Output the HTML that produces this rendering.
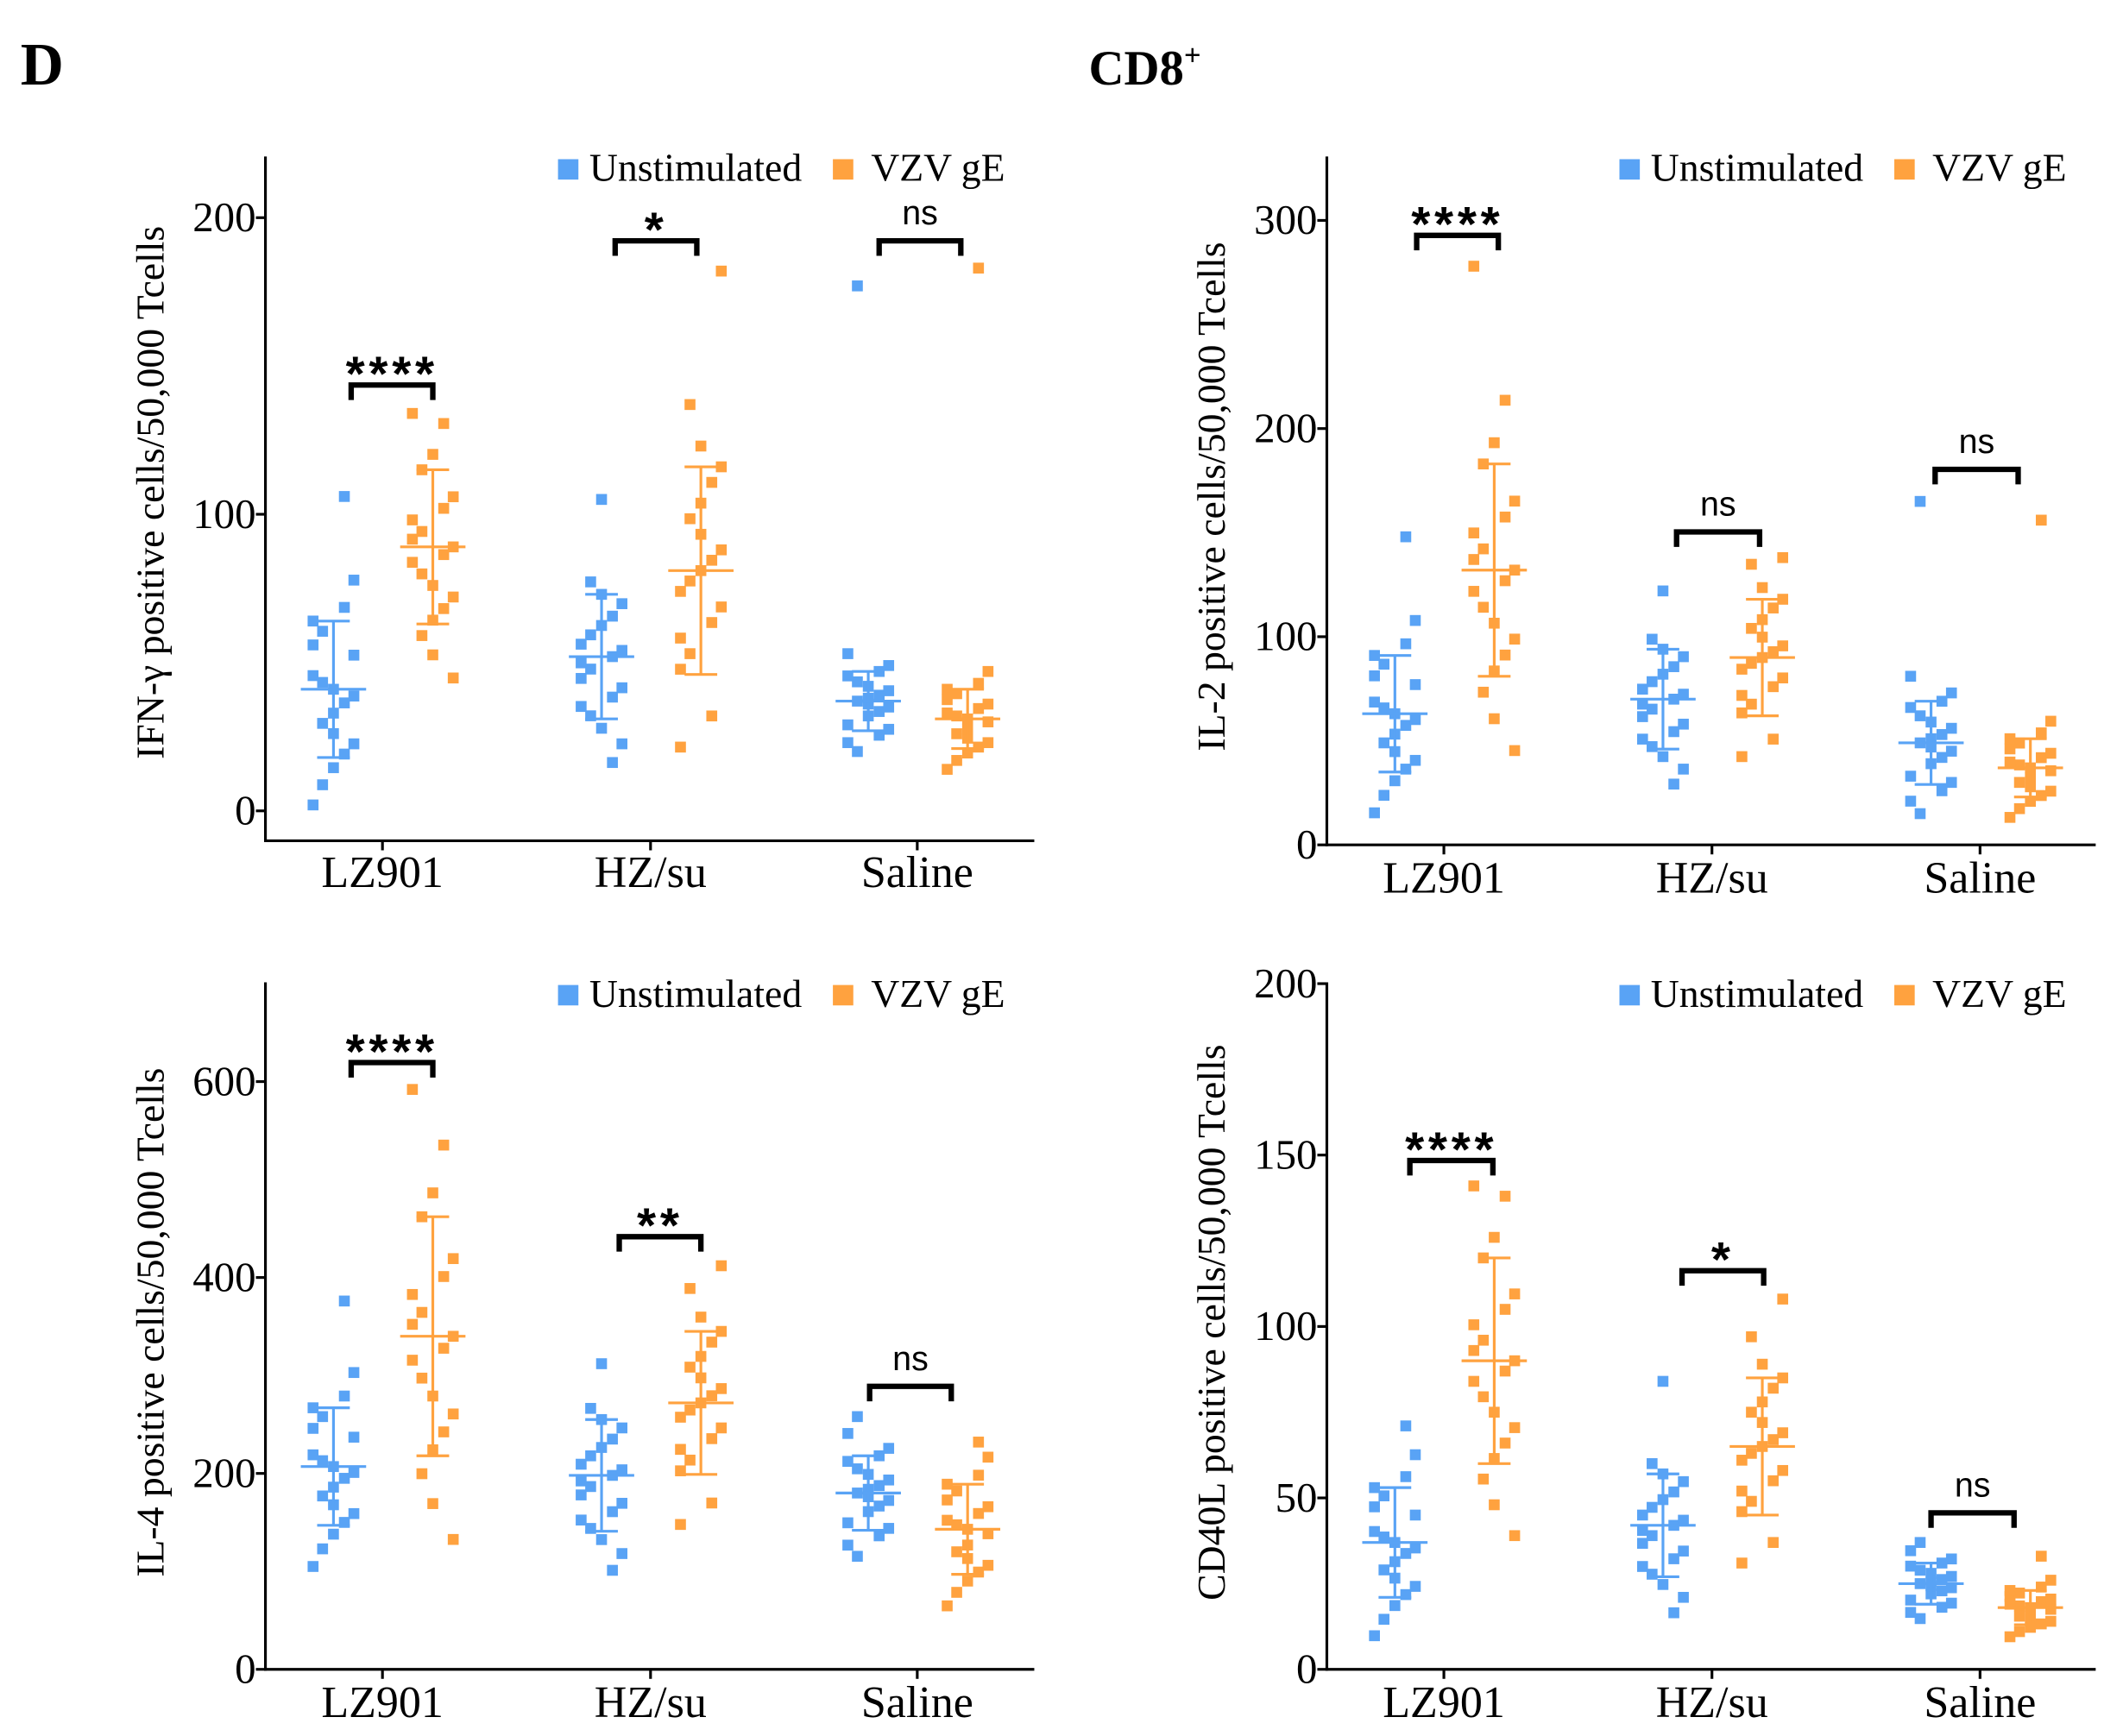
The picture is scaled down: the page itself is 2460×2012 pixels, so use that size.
<!DOCTYPE html>
<html><head><meta charset="utf-8"><style>
html,body{margin:0;padding:0;background:#fff;}
svg{display:block;}
</style></head><body>
<svg id="s" width="2460" height="2012" viewBox="0 0 1560 1276" xmlns="http://www.w3.org/2000/svg">
<text x="15" y="62" font-size="44" font-weight="bold" style="font-family:'Liberation Serif',serif">D</text>
<text x="800" y="62" font-size="36" font-weight="bold" style="font-family:'Liberation Serif',serif">CD8<tspan dy="-14" font-size="22">+</tspan></text>
</svg>
<script>
var S=document.getElementById('s'),NS='http://www.w3.org/2000/svg';
var SER="font-family:'Liberation Serif',serif",SAN="font-family:'Liberation Sans',sans-serif";
function el(t,a,txt){var e=document.createElementNS(NS,t);for(var k in a)e.setAttribute(k,a[k]);if(t=='text'&&!a.style)e.setAttribute('style',SER);if(txt!=null)e.textContent=txt;S.appendChild(e);return e;}
var B='#59a3f5',O='#ffa23f';
var Z=[-1.7,-1.4,-1.15,-0.95,-0.8,-0.65,-0.5,-0.35,-0.2,-0.1,0,0.1,0.2,0.35,0.5,0.65,0.85,1.0,1.2,1.6];
var JX=[-15,0,15,-8,8,-15,0,15,-8,8,0,-15,15,-8,8,0,-15,15,-8,8];
var panels=[
{ax:195,top:115,bot:618,xr:760,ymap:[[0,596],[200,160]],ticks:[0,100,200],gx:[281,478,674],lab:'IFN-γ positive cells/50,000 Tcells',ly:362,lx:120,legY:117,legX:[410,612],xlY:652,
 g:[[41,23,106],[89,26,134],[52,21,105],[81,35,182],[37,10,177],[31,10,183]],
 br:[[258,318,283,'****'],[452,512,177,'*'],[646,706,177,'ns']]},
{ax:975,top:115,bot:621,xr:1540,ymap:[[0,621],[300,162]],ticks:[0,100,200,300],gx:[1061,1258,1455],lab:'IL-2  positive cells/50,000 Tcells',ly:365,lx:900,legY:117,legX:[1190,1392],xlY:656,
 g:[[63,28,148],[132,51,278],[70,24,122],[90,28,138],[49,20,165],[37,14,156]],
 br:[[1041,1101,173,'****'],[1232,1293,391,'ns'],[1422,1483,345,'ns']]},
{ax:195,top:722,bot:1227,xr:760,ymap:[[0,1227],[600,795]],ticks:[0,200,400,600],gx:[281,478,674],lab:'IL-4  positive cells/50,000 Tcells',ly:972,lx:120,legY:724,legX:[410,612],xlY:1262,
 g:[[207,60,376],[340,122,592],[198,57,312],[272,73,412],[180,38,258],[143,46,232]],
 br:[[258,318,781,'****'],[455,515,909,'**'],[639,699,1019,'ns']]},
{ax:975,top:722,bot:1227,xr:1540,ymap:[[0,1227],[200,723]],ticks:[0,50,100,150,200],gx:[1061,1258,1455],lab:'CD40L  positive cells/50,000 Tcells',ly:972,lx:900,legY:724,legX:[1190,1392],xlY:1262,
 g:[[37,16,71],[90,30,141],[42,15,84],[65,20,108],[25,6,37],[18,5,33]],
 br:[[1036,1097,853,'****'],[1236,1296,934,'*'],[1419,1480,1112,'ns']]}
];
panels.forEach(function(p){
 var y0=p.ymap[0][1],v1=p.ymap[1][0],y1=p.ymap[1][1];
 function Y(v){return y0+(y1-y0)*v/v1;}
 el('line',{x1:p.ax,y1:p.top,x2:p.ax,y2:p.bot+1,stroke:'#000','stroke-width':2});
 el('line',{x1:p.ax-1,y1:p.bot,x2:p.xr,y2:p.bot,stroke:'#000','stroke-width':2});
 p.ticks.forEach(function(t){var y=Y(t);el('line',{x1:p.ax-7,y1:y,x2:p.ax,y2:y,stroke:'#000','stroke-width':2});
  el('text',{x:p.ax-7,y:y+10,'font-size':31,'text-anchor':'end'},t);});
 var names=['LZ901','HZ/su','Saline'];
 p.gx.forEach(function(x,i){el('line',{x1:x,y1:p.bot,x2:x,y2:p.bot+7,stroke:'#000','stroke-width':2});
  el('text',{x:x,y:p.xlY,'font-size':33,'text-anchor':'middle'},names[i]);});
 el('text',{x:p.lx,y:p.ly,'font-size':29,'text-anchor':'middle',transform:'rotate(-90 '+p.lx+' '+p.ly+')'},p.lab);
 el('rect',{x:p.legX[0],y:p.legY,width:15,height:15,fill:B});
 el('text',{x:p.legX[0]+23,y:p.legY+16,'font-size':29},'Unstimulated');
 el('rect',{x:p.legX[1],y:p.legY,width:15,height:15,fill:O});
 el('text',{x:p.legX[1]+28,y:p.legY+16,'font-size':29},'VZV gE');
 p.g.forEach(function(g,k){
  var gi=Math.floor(k/2),cx=p.gx[gi]+(k%2?37:-36),col=k%2?O:B;
  var m=g[0],sd=g[1],mx=g[2];
  for(var i=0;i<20;i++){var v=m+sd*Z[(i*7+k*3)%20];if(i==19)v=mx;v=Math.max(v,2);
   var y=Y(v);el('rect',{x:cx+JX[(i+k)%20]-4,y:y-4,width:8,height:8,fill:col});}
  var yt=Y(m+sd),yb=Y(m-sd),ym=Y(m);
  el('line',{x1:cx,y1:yt,x2:cx,y2:yb,stroke:col,'stroke-width':2});
  el('line',{x1:cx-12,y1:yt,x2:cx+12,y2:yt,stroke:col,'stroke-width':2});
  el('line',{x1:cx-12,y1:yb,x2:cx+12,y2:yb,stroke:col,'stroke-width':2});
  el('line',{x1:cx-24,y1:ym,x2:cx+24,y2:ym,stroke:col,'stroke-width':2});
 });
 p.br.forEach(function(b){
  el('path',{d:'M'+b[0]+' '+(b[2]+11)+'V'+b[2]+'H'+b[1]+'V'+(b[2]+11),fill:'none',stroke:'#000','stroke-width':4});
  var mid=(b[0]+b[1])/2;
  if(b[3]=='ns')el('text',{x:mid,y:b[2]-12,'font-size':25,'text-anchor':'middle',style:SAN},'ns');
  else el('text',{x:mid,y:b[2]+4,'font-size':36,'font-weight':'bold','text-anchor':'middle',style:SAN,'letter-spacing':'3'},b[3]);
 });
});
</script>
</body></html>
